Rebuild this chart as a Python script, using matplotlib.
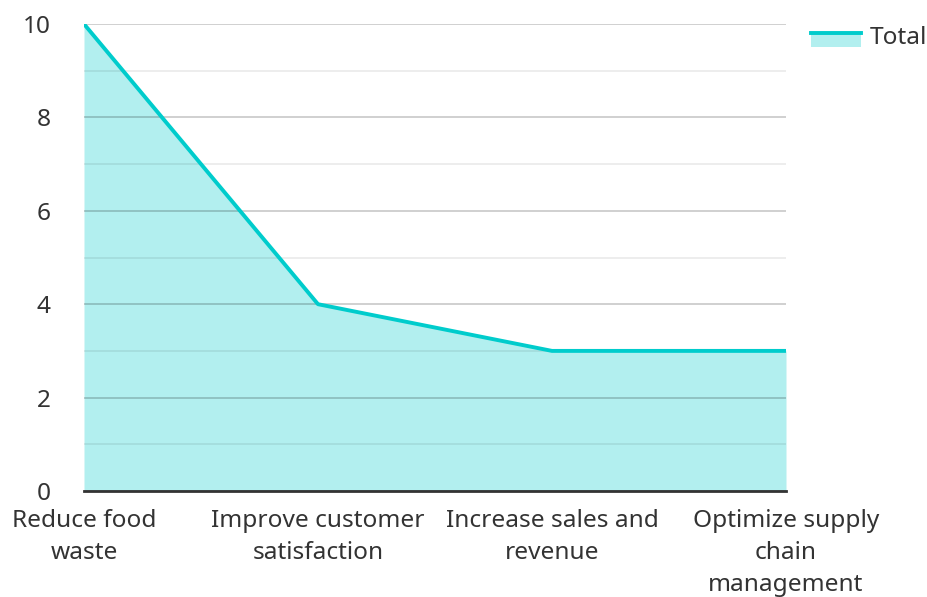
import matplotlib
matplotlib.use("Agg")
import matplotlib.pyplot as plt
from matplotlib.patches import Rectangle
from matplotlib.lines import Line2D
from matplotlib.legend_handler import HandlerBase

categories = ["Reduce food\nwaste", "Improve customer\nsatisfaction",
              "Increase sales and\nrevenue", "Optimize supply\nchain\nmanagement"]
total = [10, 4, 3, 3]
yticks = [0, 2, 4, 6, 8, 10]

plt.rcParams['font.family'] = ['Noto Sans', 'DejaVu Sans']
FS = 17.6
LINE_C = '#00cccc'
FILL_C = '#b2efef'

fig = plt.figure(figsize=(9.27, 5.97), dpi=100)
ax = fig.add_axes([84/927, 1-491/597, (786-84)/927, (491-24)/597])

x = list(range(len(categories)))
ax.fill_between(x, total, 0, color=FILL_C, zorder=1, linewidth=0)
ax.plot(x, total, color=LINE_C, linewidth=2.8, zorder=4, solid_capstyle='round')

ax.set_xlim(0, len(categories)-1)
ax.set_ylim(0, 10)
ax.set_yticks(yticks)
ax.set_yticks([1, 3, 5, 7, 9], minor=True)
ax.set_xticks(x)
ax.set_xticklabels(categories, fontsize=FS, color='#333333', linespacing=1.45)
ax.tick_params(axis='y', labelsize=FS, labelcolor='#333333', length=0, pad=24, which='both')
ax.tick_params(axis='x', length=0, pad=13)

ax.grid(axis='y', which='major', color='#000000', alpha=0.2, linewidth=1.3, zorder=2)
ax.grid(axis='y', which='minor', color='#000000', alpha=0.08, linewidth=1.3, zorder=2)
ax.set_axisbelow(False)
for s in ['top', 'right', 'left']:
    ax.spines[s].set_visible(False)
ax.spines['bottom'].set_color('#333333')
ax.spines['bottom'].set_linewidth(2)
ax.spines['bottom'].set_zorder(5)


class AreaHandler(HandlerBase):
    def create_artists(self, legend, orig_handle, xdescent, ydescent, width, height, fontsize, trans):
        y0 = -ydescent - 3.0
        rect = Rectangle((-xdescent, y0), width, height,
                         facecolor=FILL_C, edgecolor='none', transform=trans)
        line = Line2D([-xdescent, -xdescent + width], [y0 + height * 0.92] * 2,
                      color=LINE_C, linewidth=2.8, transform=trans)
        return [rect, line]


proxy = Rectangle((0, 0), 1, 1)
fig.legend([proxy], ['Total'], loc='upper left', bbox_to_anchor=(789/927, 1-4/597),
           frameon=False, fontsize=FS, handlelength=2.05, handleheight=0.6, handletextpad=0.37,
           handler_map={Rectangle: AreaHandler()}, labelcolor='#333333')

fig.savefig('out.png', dpi=100)
